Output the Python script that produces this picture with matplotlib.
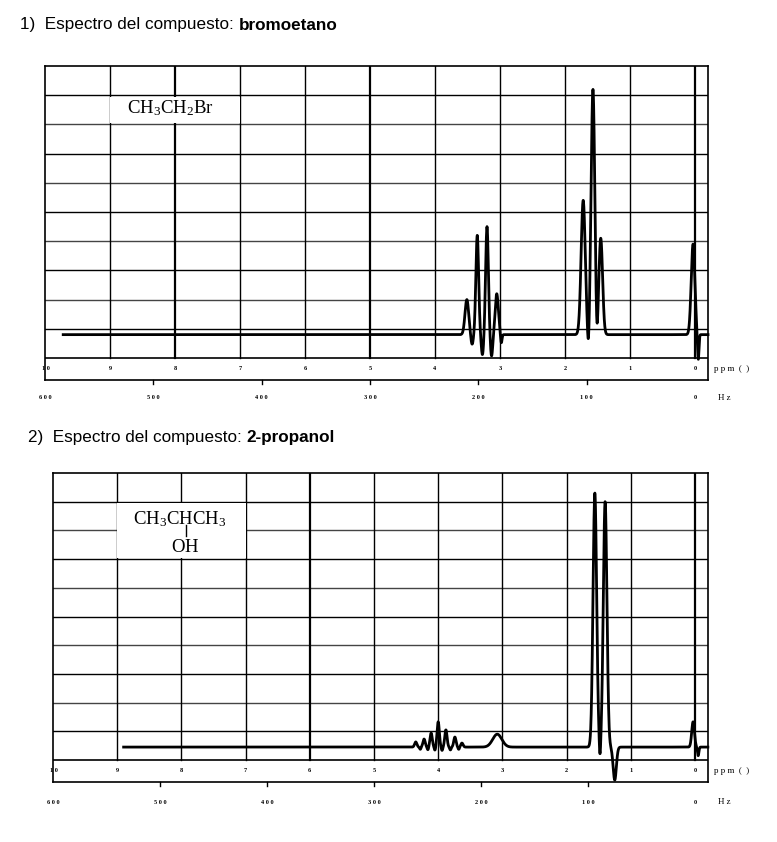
import numpy as np
import matplotlib
matplotlib.use("Agg")
import matplotlib.pyplot as plt
from matplotlib.patches import Rectangle

plt.rcParams['mathtext.fontset'] = 'custom'
plt.rcParams['mathtext.rm'] = 'Liberation Serif'
plt.rcParams['mathtext.it'] = 'Liberation Serif:italic'

W, H = 777, 842
# ---------------- data ----------------
ppm_labels = ["1 0", "9", "8", "7", "6", "5", "4", "3", "2", "1", "0"]
ppm_ticks = [10, 9, 8, 7, 6, 5, 4, 3, 2, 1, 0]
hz_labels = ["6 0 0", "5 0 0", "4 0 0", "3 0 0", "2 0 0", "1 0 0", "0"]
hz_values = [600, 500, 400, 300, 200, 100, 0]

# spectrum 1: bromoetano
s1_base = 0.8
s1_start = 9.72
s1_pos = [3.51, 3.43, 3.35, 3.27, 3.20, 3.13, 3.05, 2.98,
          1.72, 1.64, 1.57, 1.51, 1.45, 0.03, -0.05]
s1_h = [1.2, -0.35, 3.4, -0.7, 3.7, -0.75, 1.4, -0.3,
        4.6, -0.7, 8.4, -0.75, 3.3, 3.1, -0.9]
s1_w = [0.04, 0.025, 0.03, 0.025, 0.03, 0.025, 0.035, 0.015,
        0.045, 0.02, 0.04, 0.02, 0.04, 0.04, 0.015]

# spectrum 2: 2-propanol
s2_base = 0.45
s2_start = 8.9
s2_pos = [4.35, 4.28, 4.22, 4.16, 4.11, 4.05, 4.00, 3.94, 3.88, 3.81, 3.74, 3.68, 3.63,
          3.08, 1.56, 1.48, 1.40, 1.25, 0.03, -0.05]
s2_h = [0.18, -0.08, 0.28, -0.1, 0.49, -0.12, 0.88, -0.12, 0.6, -0.1, 0.35, -0.08, 0.14,
        0.45, 8.85, -0.55, 8.55, -1.15, 0.88, -0.3]
s2_w = [0.025, 0.015, 0.025, 0.015, 0.025, 0.015, 0.025, 0.015, 0.025, 0.015, 0.025, 0.015, 0.025,
        0.1, 0.04, 0.015, 0.04, 0.035, 0.03, 0.015]


def spectrum(start, base, pos, h, w):
    x = np.linspace(start, -0.2, 6000)
    y = np.full_like(x, base)
    for p, hh, ww in zip(pos, h, w):
        y += hh * np.exp(-((x - p) / ww) ** 2)
    return x, y


fig = plt.figure(figsize=(W / 100, H / 100), dpi=100)
renderer = fig.canvas.get_renderer()


def panel(left, right, top, gridbot, stripbot, zero_px, hz_y, spec, label_fn,
          thick_v, title_num, title_name, title_xy):
    unit = (gridbot - top) / 10.0
    ymin = -(stripbot - gridbot) / unit
    ppm_px = (zero_px - left) / 10.0
    xmax_ppm = -(right - zero_px) / ppm_px
    ax = fig.add_axes([left / W, 1 - stripbot / H, (right - left) / W, (stripbot - top) / H])
    ax.set_xlim(10, xmax_ppm)
    ax.set_ylim(ymin, 10)
    ax.set_xticks([]); ax.set_yticks([])
    for s in ax.spines.values():
        s.set_linewidth(1.2)
    for yy in range(1, 10):
        ax.plot([10, xmax_ppm], [yy, yy], color='black' if yy % 2 else '#444444', lw=1.0, zorder=1)
    ax.plot([10, xmax_ppm], [0, 0], color='black', lw=1.2, zorder=1)
    for xx in range(0, 10):
        ax.plot([xx, xx], [0, 10], color='black', lw=1.6 if xx in thick_v else 1.0, zorder=1)
    label_fn(ax)
    x, y = spectrum(*spec)
    ax.plot(x, y, color='black', lw=2.0, zorder=5, clip_on=False)
    for t, l in zip(ppm_ticks, ppm_labels):
        ax.text(t + (0.05 if t == 10 else 0), ymin / 2, l, ha='left' if t == 10 else 'center',
                va='center', fontsize=4.5, fontweight='bold', family='Liberation Serif')
    ax.text(xmax_ppm - 0.1, ymin / 2, "p p m  (  )", ha='left', va='center', fontsize=6.5,
            family='Liberation Serif', clip_on=False)
    for hz, l in zip(hz_values, hz_labels):
        xp = hz / 60.0
        if 0 < hz < 600:
            ax.plot([xp, xp], [ymin, ymin - 0.15], color='black', lw=1, clip_on=False)
        ax.text(xp, ymin - (hz_y - stripbot) / unit, l, ha='center', va='center', fontsize=4.5,
                fontweight='bold', family='Liberation Serif', clip_on=False)
    ax.text(xmax_ppm - 0.15, ymin - (hz_y - stripbot) / unit, "H z", ha='left', va='center',
            fontsize=6.5, family='Liberation Serif', clip_on=False)
    t1 = fig.text(title_xy[0] / W, 1 - title_xy[1] / H, f"{title_num})  Espectro del compuesto:",
                  fontsize=12.3, family='Liberation Sans', va='center', ha='left')
    bb = t1.get_window_extent(renderer)
    fig.text((bb.x1 + 5) / W, 1 - title_xy[1] / H, title_name, fontsize=12.3, fontweight='bold',
             family='Liberation Sans', va='center', ha='left')
    return ax


def lab1(ax):
    ax.add_patch(Rectangle((9, 8.05), -2, 0.9, facecolor='white', edgecolor='none', zorder=2))
    ax.text(8.74, 8.55, r'$\mathrm{CH_3CH_2Br}$', fontsize=13.5, va='center', ha='left', zorder=3)


def lab2(ax):
    ax.add_patch(Rectangle((9, 7.05), -2, 1.9, facecolor='white', edgecolor='none', zorder=2))
    ax.text(8.75, 8.4, r'$\mathrm{CH_3CHCH_3}$', fontsize=13.5, va='center', ha='left', zorder=3)
    ax.text(8.16, 7.45, r'$\mathrm{OH}$', fontsize=13.5, va='center', ha='left', zorder=3)
    ax.plot([7.93, 7.93], [7.8, 8.2], color='black', lw=1, zorder=3)


panel(45, 708, 66, 358, 380, 695, 398, (s1_start, s1_base, s1_pos, s1_h, s1_w), lab1,
      [8, 5, 0], 1, "bromoetano", (20, 25))
panel(53, 708, 473, 760, 782, 695, 802, (s2_start, s2_base, s2_pos, s2_h, s2_w), lab2,
      [6, 0], 2, "2-propanol", (28, 438))

fig.savefig("out.png", dpi=100)
